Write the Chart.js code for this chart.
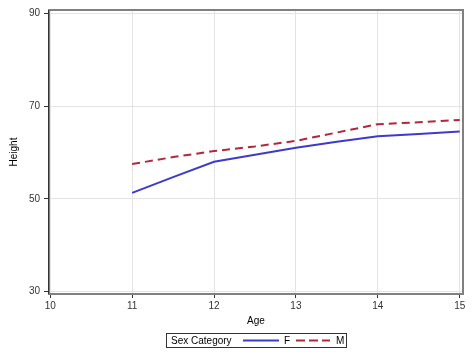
<!DOCTYPE html>
<html>
<head>
<meta charset="utf-8">
<script src="https://cdn.jsdelivr.net/npm/chart.js@4"></script>
<style>
  body { margin: 0; background: #fff; }
  #wrap { position: relative; width: 474px; height: 355px; }
  #legend {
    position: absolute; left: 166px; top: 333px; width: 181px; height: 15px;
    border: 1px solid #333; font: 10px "Liberation Sans", Arial, sans-serif; color: #000;
    box-sizing: border-box;
  }
  #legend span { position: absolute; top: 1px; }
  #legend svg { position: absolute; top: 0; left: 0; }
</style>
</head>
<body>
<div id="wrap">
  <canvas id="c" width="474" height="355"></canvas>
  <div id="legend">
    <span style="left:4px">Sex Category</span>
    <svg width="179" height="13">
      <line x1="76" y1="6.5" x2="112" y2="6.5" stroke="#3b3bcc" stroke-width="2"/>
      <line x1="129" y1="6.5" x2="163" y2="6.5" stroke="#b0283a" stroke-width="2" stroke-dasharray="9 4"/>
    </svg>
    <span style="left:117px">F</span>
    <span style="left:169px">M</span>
  </div>
</div>
<script>
// Valores
const ages = [11, 11.5, 12, 12.5, 13, 13.5, 14, 14.5, 15];
const heightF = [51.3, 54.7, 58.0, 59.5, 61.0, 62.3, 63.5, 64.0, 64.5];
const heightM = [57.5, 59.0, 60.3, 61.3, 62.5, 64.3, 66.1, 66.5, 67.0];
const yTicks = [30, 50, 70, 90];
const xTicks = [10, 11, 12, 13, 14, 15];

const font = { family: "'Liberation Sans', Arial, sans-serif", size: 10 };

// Marco gris alrededor del área del gráfico
const frame = {
    id: "frame",
    afterDraw(chart) {
        const { ctx, chartArea: a } = chart;
        ctx.save();
        ctx.strokeStyle = "#808080";
        ctx.lineWidth = 2;
        ctx.strokeRect(a.left, a.top, a.right - a.left, a.bottom - a.top);
        ctx.strokeStyle = "#333";
        ctx.lineWidth = 1;
        ctx.beginPath();
        ctx.moveTo(a.left - 0.5, a.top);
        ctx.lineTo(a.left - 0.5, a.bottom);
        ctx.stroke();
        ctx.restore();
    },
};

new Chart(document.getElementById("c").getContext("2d"), {
    type: "line",
    data: {
        datasets: [
            {
                label: "F",
                data: ages.map((x, i) => ({ x, y: heightF[i] })),
                borderColor: "#3b3bcc",
                borderWidth: 2,
                pointRadius: 0,
                tension: 0,
            },
            {
                label: "M",
                data: ages.map((x, i) => ({ x, y: heightM[i] })),
                borderColor: "#b0283a",
                borderWidth: 2,
                borderDash: [8, 5],
                pointRadius: 0,
                tension: 0,
            },
        ],
    },
    options: {
        responsive: false,
        animation: false,
        layout: { padding: { top: 10, right: 11, bottom: 28, left: 0 } },
        plugins: { legend: { display: false }, tooltip: { enabled: false } },
        scales: {
            x: {
                type: "linear",
                min: 9.985,
                max: 15.04,
                afterBuildTicks: (s) => { s.ticks = xTicks.map((v) => ({ value: v })); },
                afterFit: (s) => { s.height = 33; },
                ticks: { font, color: "#333", padding: 2, maxRotation: 0 },
                grid: { color: "#e4e4e4", tickLength: 4, tickColor: "#333" },
                border: { display: false },
                title: { display: true, text: "Age", font, color: "#000", padding: 0 },
            },
            y: {
                min: 29.5,
                max: 90.7,
                afterBuildTicks: (s) => { s.ticks = yTicks.map((v) => ({ value: v })); },
                afterFit: (s) => { s.width = 49; },
                ticks: { font, color: "#333", padding: 4 },
                grid: { color: "#e4e4e4", tickLength: 5, tickColor: "#333" },
                border: { display: false },
                title: { display: true, text: "Height", font, color: "#000", padding: { top: 8, bottom: 0 } },
            },
        },
    },
    plugins: [frame],
});
</script>
</body>
</html>
